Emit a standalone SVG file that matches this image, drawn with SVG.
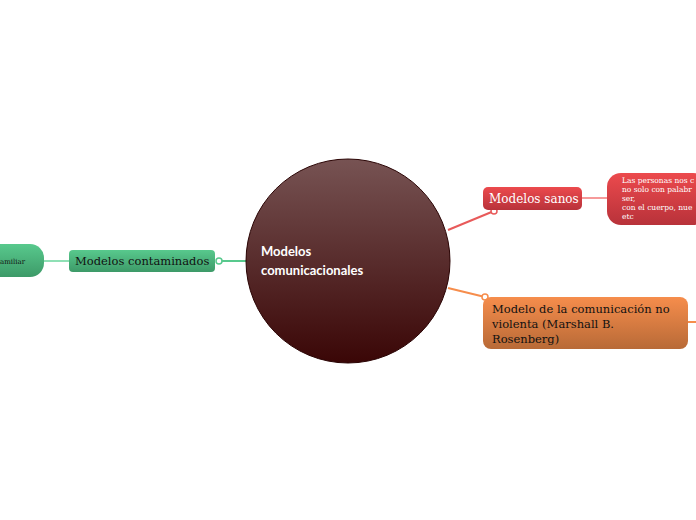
<svg xmlns="http://www.w3.org/2000/svg" width="696" height="520" viewBox="0 0 696 520">
<defs>
<linearGradient id="gc" x1="0" y1="0" x2="0" y2="1"><stop offset="0" stop-color="#775353"/><stop offset="1" stop-color="#3a0606"/></linearGradient>
<linearGradient id="gr" x1="0" y1="0" x2="0" y2="1"><stop offset="0" stop-color="#ec4a4d"/><stop offset="1" stop-color="#b8323a"/></linearGradient>
<linearGradient id="go" x1="0" y1="0" x2="0" y2="1"><stop offset="0" stop-color="#f68d4c"/><stop offset="1" stop-color="#b86a37"/></linearGradient>
<linearGradient id="gg" x1="0" y1="0" x2="0" y2="1"><stop offset="0" stop-color="#58c98d"/><stop offset="1" stop-color="#3d9a68"/></linearGradient>
</defs>
<style>
text{font-family:"DejaVu Serif","Liberation Serif",serif;}
.l{fill:none;stroke-width:2}
</style>
<g id="connectors">
<path class="l" stroke="#e85a5a" d="M448 230 L494 211"/>
<circle cx="494" cy="211" r="3" fill="#fff" stroke="#e85a5a" stroke-width="1.5"/>
<path class="l" stroke="#f69a9a" d="M582 198 L608 198"/>
<path class="l" stroke="#f68d4c" d="M448 288 L485 297"/>
<circle cx="485" cy="297" r="3" fill="#fff" stroke="#f68d4c" stroke-width="1.5"/>
<path class="l" stroke="#f68d4c" d="M686 322 L696 322"/>
<path class="l" stroke="#58c98d" d="M219 261 L248 261"/>
<circle cx="219" cy="261" r="3" fill="#fff" stroke="#58c98d" stroke-width="1.5"/>
<path class="l" stroke="#8fe0b5" d="M44 261 L70 261"/>
</g>
<g id="center">
<circle cx="348" cy="261" r="102" fill="url(#gc)" stroke="#2a0404" stroke-width="1"/>
<text x="261" y="256" font-family="Lato,sans-serif" font-weight="bold" font-size="13" fill="#fff" style="font-family:Lato,sans-serif">Modelos</text>
<text x="261" y="275" font-weight="bold" font-size="13" fill="#fff" style="font-family:Lato,sans-serif">comunicacionales</text>
</g>
<g id="sanos">
<rect x="483" y="187" width="99" height="23" rx="5" fill="url(#gr)"/>
<text x="489" y="203" font-size="12" fill="#fff">Modelos sanos</text>
</g>
<g id="personas">
<rect x="607" y="173" width="100" height="52" rx="14" fill="url(#gr)"/>
<text font-size="7.5" fill="#fff"><tspan x="622" y="183">Las personas nos c</tspan><tspan x="622" y="192">no solo con palabr</tspan><tspan x="622" y="201">ser,</tspan><tspan x="622" y="210">con el cuerpo, nue</tspan><tspan x="622" y="219">etc</tspan></text>
</g>
<g id="noviolenta">
<rect x="483" y="297" width="205" height="52" rx="8" fill="url(#go)"/>
<text font-size="11.5" fill="#111"><tspan x="492" y="313">Modelo de la comunicación no</tspan><tspan x="492" y="328">violenta (Marshall B.</tspan><tspan x="492" y="343">Rosenberg)</tspan></text>
</g>
<g id="contaminados">
<rect x="69" y="250" width="146" height="22" rx="4" fill="url(#gg)"/>
<text x="75" y="265" font-size="11.5" fill="#111">Modelos contaminados</text>
</g>
<g id="familiar">
<rect x="-30" y="244" width="74" height="33" rx="14" fill="url(#gg)"/>
<text x="0" y="264" font-size="7" fill="#111">amiliar</text>
</g>
</svg>
